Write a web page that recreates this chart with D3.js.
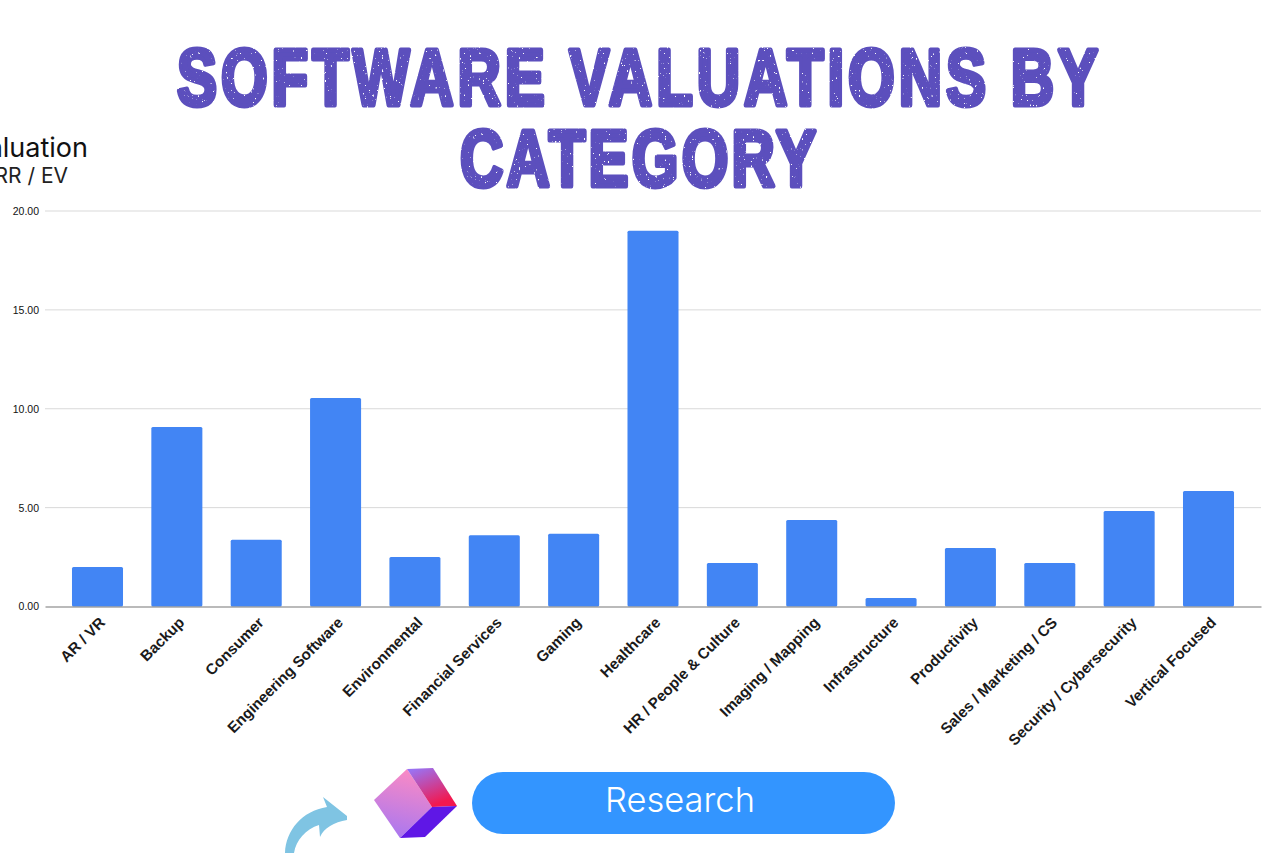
<!DOCTYPE html>
<html>
<head>
<meta charset="utf-8">
<script src="https://cdnjs.cloudflare.com/ajax/libs/d3/7.8.5/d3.min.js"></script>
<style>
    html, body { margin: 0; padding: 0; background: #fff; }
    svg { display: block; }
</style>
</head>
<body>
<div id="wrapper"></div>
<script>
const categories = ["AR / VR", "Backup", "Consumer", "Engineering Software", "Environmental",
    "Financial Services", "Gaming", "Healthcare", "HR / People & Culture", "Imaging / Mapping",
    "Infrastructure", "Productivity", "Sales / Marketing / CS", "Security / Cybersecurity", "Vertical Focused"];
const multiples = [2.0, 9.08, 3.37, 10.54, 2.5, 3.6, 3.68, 19.0, 2.2, 4.37, 0.43, 2.96, 2.2, 4.83, 5.84];
const yTicks = [0, 5, 10, 15, 20];
const titleLines = ["SOFTWARE VALUATIONS BY", "CATEGORY"];

const wsvg = 1280;
const hsvg = 853;

const svg = d3.select("#wrapper").append("svg")
    .attr("width", wsvg)
    .attr("height", hsvg)
    .attr("viewBox", `0 0 ${wsvg} ${hsvg}`);

const defs = svg.append("defs");

// worn stamp look on the title
const worn = defs.append("filter").attr("id", "worn")
    .attr("x", "-2%").attr("y", "-10%").attr("width", "104%").attr("height", "120%");
worn.append("feTurbulence").attr("type", "fractalNoise").attr("baseFrequency", 0.4)
    .attr("numOctaves", 2).attr("seed", 4).attr("result", "noise");
worn.append("feColorMatrix").attr("in", "noise").attr("type", "matrix")
    .attr("values", "0 0 0 0 0  0 0 0 0 0  0 0 0 0 0  0 0 0 -14 11").attr("result", "mask");
worn.append("feComposite").attr("in", "SourceGraphic").attr("in2", "mask").attr("operator", "in");

const faceLeft = defs.append("linearGradient").attr("id", "faceLeft")
    .attr("x1", 0.6).attr("y1", 0).attr("x2", 0.4).attr("y2", 1);
faceLeft.append("stop").attr("offset", 0).attr("stop-color", "#fb8ac4");
faceLeft.append("stop").attr("offset", 1).attr("stop-color", "#a977f0");

const faceTop = defs.append("linearGradient").attr("id", "faceTop")
    .attr("x1", 0.2).attr("y1", 0).attr("x2", 0.7).attr("y2", 1);
faceTop.append("stop").attr("offset", 0).attr("stop-color", "#9a72f2");
faceTop.append("stop").attr("offset", 0.9).attr("stop-color", "#f2184f");

// TITLE, squeezed sideways because no condensed heavy face is installed
const titleSqueeze = 0.76;
const titleBoxes = [[177, 1098, 105], [460, 816, 186]];
svg.selectAll(".title")
    .data(titleLines)
    .join("text")
    .attr("class", "title")
    .attr("transform", (d, i) => `translate(${titleBoxes[i][0]}, ${titleBoxes[i][2]}) scale(${titleSqueeze}, 1)`)
    .attr("textLength", (d, i) => (titleBoxes[i][1] - titleBoxes[i][0]) / titleSqueeze)
    .attr("lengthAdjust", "spacing")
    .attr("font-family", "'Liberation Sans', sans-serif")
    .attr("font-weight", 700)
    .attr("font-size", 79)
    .attr("fill", "#5b50bd")
    .attr("stroke", "#5b50bd")
    .attr("stroke-width", 5)
    .attr("stroke-linejoin", "round")
    .attr("filter", "url(#worn)")
    .text(d => d);

// AXIS TITLE, cut off by the left edge like in the original
svg.append("text")
    .attr("x", 88).attr("y", 157)
    .attr("text-anchor", "end")
    .attr("font-family", "Inter, sans-serif")
    .attr("font-size", 27)
    .attr("fill", "#111")
    .text("Valuation");

svg.append("text")
    .attr("x", 68).attr("y", 183)
    .attr("text-anchor", "end")
    .attr("font-family", "Inter, sans-serif")
    .attr("font-size", 21)
    .attr("fill", "#222")
    .text("ARR / EV");

// SCALES
const xScale = d3.scaleBand(categories, [45, 1261])
    .paddingInner(0.357)
    .paddingOuter(0.34);
const yScale = d3.scaleLinear([0, 20], [606.5, 211]);

// GRID
svg.append("g")
    .selectAll("line")
    .data(yTicks.filter(d => d > 0))
    .join("line")
    .attr("x1", 45).attr("x2", 1261)
    .attr("y1", d => yScale(d)).attr("y2", d => yScale(d))
    .attr("stroke", "#d9d9d9")
    .attr("stroke-width", 1);

// BARS
svg.append("g")
    .selectAll("rect")
    .data(multiples)
    .join("rect")
    .attr("x", (d, i) => xScale(categories[i]))
    .attr("y", d => yScale(d))
    .attr("width", xScale.bandwidth())
    .attr("height", d => yScale(0) - yScale(d))
    .attr("rx", 1.5)
    .attr("fill", "#4285f4");

// AXES
const yAxis = d3.axisLeft(yScale).tickValues(yTicks).tickFormat(d3.format(".2f")).tickSize(0).tickPadding(6);
const yAxisGroup = svg.append("g")
    .attr("transform", "translate(45, 0)")
    .call(yAxis);
yAxisGroup.select(".domain").remove();
yAxisGroup.selectAll("text")
    .attr("font-family", "'Liberation Sans', sans-serif")
    .attr("font-size", 10.5)
    .attr("fill", "#111");

const xAxis = d3.axisBottom(xScale).tickSize(0);
const xAxisGroup = svg.append("g")
    .attr("transform", `translate(0, ${yScale(0)})`)
    .call(xAxis);
xAxisGroup.select(".domain")
    .attr("stroke", "#777")
    .attr("stroke-width", 1.2);
xAxisGroup.selectAll("text")
    .attr("font-family", "'Liberation Sans', sans-serif")
    .attr("font-size", 15.2)
    .attr("font-weight", 700)
    .attr("fill", "#1a1a1a")
    .attr("text-anchor", "end")
    .attr("dy", 0)
    .attr("y", 0)
    .attr("transform", "translate(8.5, 17) rotate(-45)");

// CUBE LOGO
const logo = svg.append("g");
logo.append("polygon").attr("points", "374,800 407,769 432,807 400,838").attr("fill", "url(#faceLeft)");
logo.append("polygon").attr("points", "407,769 433,768 457,806 432,807").attr("fill", "url(#faceTop)");
logo.append("polygon").attr("points", "432,807 457,806 425,837 400,838").attr("fill", "#5f17e6");

// ARROW
svg.append("path")
    .attr("d", "M285,853 C286,830 302,811 327,807 L323,797 L347,816 L347,820 C334,822 324,828 320,837 L319,825 C306,829 296,840 294,853 Z")
    .attr("fill", "#7fc4e3");

// RESEARCH BUTTON
svg.append("rect")
    .attr("x", 472).attr("y", 772)
    .attr("width", 423).attr("height", 62)
    .attr("rx", 31)
    .attr("fill", "#3395ff");

svg.append("text")
    .attr("x", 680).attr("y", 812)
    .attr("text-anchor", "middle")
    .attr("font-family", "Inter, sans-serif")
    .attr("font-size", 34.5)
    .attr("font-weight", 300)
    .attr("fill", "#fff")
    .text("Research");
</script>
</body>
</html>
